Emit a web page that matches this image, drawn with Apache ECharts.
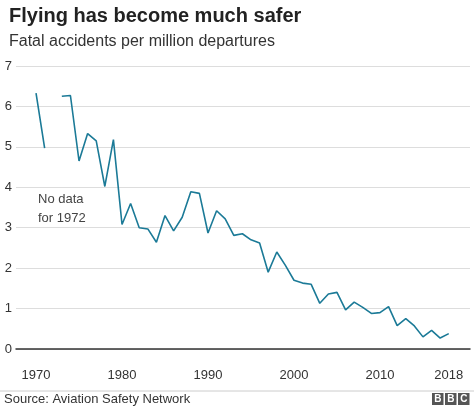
<!DOCTYPE html><html><head><meta charset="utf-8">
<script src="https://cdn.jsdelivr.net/npm/echarts@6/dist/echarts.min.js"></script>
<style>body{margin:0;background:#fff}#c{width:474px;height:407px}</style></head><body><div id="c"></div>
<script>
const years=[];for(let y=1970;y<=2018;y++)years.push(y);
const values=[6.33,4.97,null,6.25,6.27,4.65,5.33,5.15,4.02,5.18,3.08,3.6,3.0,2.97,2.64,3.3,2.92,3.26,3.89,3.85,2.87,3.42,3.22,2.81,2.85,2.7,2.62,1.9,2.4,2.07,1.7,1.63,1.6,1.13,1.36,1.4,0.97,1.16,1.03,0.88,0.9,1.05,0.58,0.75,0.57,0.3,0.46,0.27,0.38];
const xTicks=[1970,1980,1990,2000,2010,2018];
const yTicks=[0,1,2,3,4,5,6,7];
const F='Helvetica, Arial, "Liberation Sans", sans-serif';
const chart=echarts.init(document.getElementById('c'));
chart.setOption({
 animation:false,
 title:[{text:'Flying has become much safer',left:4,top:1,textStyle:{fontFamily:F,fontSize:20,fontWeight:'bold',color:'#222'}},
  {text:'Fatal accidents per million departures',left:4,top:29,textStyle:{fontFamily:F,fontSize:16,fontWeight:'normal',color:'#333'}}],
 grid:{left:16,right:4,top:66,bottom:58},
 xAxis:{type:'value',min:1967.67,max:2020.47,
  axisLine:{show:true,onZero:false,lineStyle:{color:'#333',width:1.5}},
  axisTick:{show:false},splitLine:{show:false},
  axisLabel:{customValues:xTicks,color:'#333',fontFamily:F,fontSize:13,margin:20,formatter:v=>String(v)}},
 yAxis:{type:'value',min:0,max:7,interval:1,
  axisLine:{show:false},axisTick:{show:false},
  splitLine:{lineStyle:{color:'#ddd',width:1.2}},
  axisLabel:{margin:4,color:'#333',fontFamily:F,fontSize:13,align:'right'}},
 series:[{type:'line',data:years.map((y,i)=>[y,values[i]]),showSymbol:false,connectNulls:false,
  lineStyle:{color:'#1b7a97',width:1.6}}],
 graphic:[
  {type:'text',left:38,top:190,style:{text:'No data\nfor 1972',font:'13px '+F,fill:'#444',lineHeight:19}},
  {type:'line',shape:{x1:0,y1:391,x2:474,y2:391},style:{stroke:'#ccc',lineWidth:1}},
  {type:'text',left:4,top:393,style:{text:'Source: Aviation Safety Network',font:'13px '+F,fill:'#333'}},
  ...[0,1,2].map(i=>({type:'group',left:432+i*13,top:393,children:[
   {type:'rect',shape:{x:0,y:0,width:11.5,height:12},style:{fill:'#555'}},
   {type:'text',style:{x:5.75,y:6.5,text:'BBC'[i],font:'bold 10px '+F,fill:'#fff',align:'center',verticalAlign:'middle'}}]}))
 ]
});
</script></body></html>
